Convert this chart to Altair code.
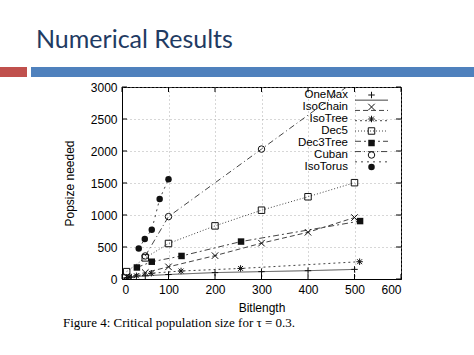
import altair as alt
import pandas as pd

# ---- data ----
series_names = ["OneMax", "IsoChain", "IsoTree", "Dec5", "Dec3Tree", "Cuban", "IsoTorus"]

onemax_x = [10, 20, 50, 100, 200, 300, 400, 500]
onemax_y = [20, 30, 50, 70, 100, 115, 130, 150]

isochain_x = [10, 50, 100, 200, 300, 400, 500]
isochain_y = [40, 100, 190, 365, 560, 730, 960]

isotree_x = [15, 31, 63, 127, 255, 511]
isotree_y = [30, 50, 90, 125, 165, 270]

dec5_x = [10, 50, 100, 200, 300, 400, 500]
dec5_y = [115, 330, 555, 830, 1075, 1285, 1505]

dec3tree_x = [32, 64, 128, 256, 512]
dec3tree_y = [180, 270, 360, 585, 905]

cuban_x = [50, 100, 300, 500]
cuban_y = [360, 975, 2030, 3090]

isotorus_x = [36, 49, 64, 81, 100]
isotorus_y = [475, 625, 770, 1250, 1560]

x_ticks = [0, 100, 200, 300, 400, 500, 600]
y_ticks = [0, 500, 1000, 1500, 2000, 2500, 3000]

title_text = "Numerical Results"
x_title = "Bitlength"
y_title = "Popsize needed"
caption_text = "Figure 4: Critical population size for \u03c4 = 0.3."

# ---- styles ----
dashes = [[1, 0], [5, 3], [2, 3], [1, 2], [6, 3, 2, 3], [6, 3, 1, 3], [2, 4]]
PLUS = "M-1,0H1M0,-1V1"
XMARK = "M-1,-1L1,1M-1,1L1,-1"
STAR = "M-1,0H1M0,-1V1M-0.75,-0.75L0.75,0.75M-0.75,0.75L0.75,-0.75"
shapes = [PLUS, XMARK, STAR, "square", "square", "circle", "circle"]
open_series = ["OneMax", "IsoChain", "IsoTree", "Dec5", "Cuban"]
filled_series = ["Dec3Tree", "IsoTorus"]

xs = [onemax_x, isochain_x, isotree_x, dec5_x, dec3tree_x, cuban_x, isotorus_x]
ys = [onemax_y, isochain_y, isotree_y, dec5_y, dec3tree_y, cuban_y, isotorus_y]
rows = []
for name, xv, yv in zip(series_names, xs, ys):
    for a, b in zip(xv, yv):
        rows.append({"series": name, "x": a, "y": b})
df = pd.DataFrame(rows)

W, H = 279, 192
AX_FONT = "Liberation Sans"

xscale = alt.Scale(domain=[0, 600], nice=False, zero=False)
yscale = alt.Scale(domain=[0, 3000], nice=False, zero=False)
dash_scale = alt.Scale(domain=series_names, range=dashes)
shape_scale = alt.Scale(domain=series_names, range=shapes)

X = alt.X("x:Q", scale=xscale, axis=alt.Axis(
    values=x_ticks, title=x_title, grid=True, ticks=False, labelPadding=5,
    titlePadding=7, format="d"))
Y_axis = alt.Y("y:Q", scale=yscale, axis=alt.Axis(
    values=y_ticks, title=y_title, grid=True, ticks=False, labelPadding=5,
    titlePadding=14, format="d"))
Y_plain = alt.Y("y:Q", scale=yscale, axis=None)

lines = alt.Chart(df).mark_line(strokeWidth=1, color="#444", clip=True).encode(
    x=X, y=Y_axis, detail="series:N",
    strokeDash=alt.StrokeDash("series:N", scale=dash_scale, legend=None),
)

pts_open = alt.Chart(df).transform_filter(
    alt.FieldOneOfPredicate(field="series", oneOf=open_series)
).mark_point(filled=False, size=42, strokeWidth=1, color="#111", opacity=1, clip=True).encode(
    x=alt.X("x:Q", scale=xscale), y=Y_plain,
    shape=alt.Shape("series:N", scale=shape_scale, legend=None),
)

pts_filled = alt.Chart(df).transform_filter(
    alt.FieldOneOfPredicate(field="series", oneOf=filled_series)
).mark_point(filled=True, size=42, color="#111", opacity=1, clip=True).encode(
    x=alt.X("x:Q", scale=xscale), y=Y_plain,
    shape=alt.Shape("series:N", scale=shape_scale, legend=None),
)

# inward ticks (gnuplot style), mirrored on all sides
yt = pd.DataFrame({"y": y_ticks})
xt = pd.DataFrame({"x": x_ticks})
ytick_l = alt.Chart(yt).mark_rule(color="black", strokeWidth=1).encode(
    y=Y_plain, x=alt.value(0), x2=alt.value(5))
ytick_r = alt.Chart(yt).mark_rule(color="black", strokeWidth=1).encode(
    y=Y_plain, x=alt.value(W - 5), x2=alt.value(W))
xtick_b = alt.Chart(xt).mark_rule(color="black", strokeWidth=1).encode(
    x=alt.X("x:Q", scale=xscale), y=alt.value(H), y2=alt.value(H - 5))
xtick_t = alt.Chart(xt).mark_rule(color="black", strokeWidth=1).encode(
    x=alt.X("x:Q", scale=xscale), y=alt.value(0), y2=alt.value(5))

# legend (text left of sample, gnuplot style)
leg = pd.DataFrame({"series": series_names})
leg_y = alt.Y("series:N", sort=series_names,
              scale=alt.Scale(domain=series_names, range=[8, 80], padding=0), axis=None)
leg_text = alt.Chart(leg).mark_text(align="right", baseline="middle", font=AX_FONT,
                                    fontSize=11.5, color="black").encode(
    y=leg_y, x=alt.value(226), text="series:N")
leg_line = alt.Chart(leg).mark_rule(strokeWidth=1, color="#444").encode(
    y=leg_y, x=alt.value(233), x2=alt.value(266),
    strokeDash=alt.StrokeDash("series:N", scale=dash_scale, legend=None))
leg_open = alt.Chart(leg).transform_filter(
    alt.FieldOneOfPredicate(field="series", oneOf=open_series)
).mark_point(filled=False, size=42, strokeWidth=1, color="#111", opacity=1).encode(
    y=leg_y, x=alt.value(249.5),
    shape=alt.Shape("series:N", scale=shape_scale, legend=None))
leg_filled = alt.Chart(leg).transform_filter(
    alt.FieldOneOfPredicate(field="series", oneOf=filled_series)
).mark_point(filled=True, size=42, color="#111", opacity=1).encode(
    y=leg_y, x=alt.value(249.5),
    shape=alt.Shape("series:N", scale=shape_scale, legend=None))

# slide decorations
one = pd.DataFrame({"t": [title_text]})
slide_title = alt.Chart(one).mark_text(
    align="left", baseline="alphabetic", font="Lato", fontSize=25, color="#1F3B63"
).encode(text="t:N", x=alt.value(-86), y=alt.value(-39))
red_bar = alt.Chart(one).mark_rect(color="#C0504D").encode(
    x=alt.value(-122), x2=alt.value(-95), y=alt.value(-20), y2=alt.value(-10))
blue_bar = alt.Chart(one).mark_rect(color="#4F81BD").encode(
    x=alt.value(-91), x2=alt.value(360), y=alt.value(-20), y2=alt.value(-10))
cap = pd.DataFrame({"t": [caption_text]})
caption = alt.Chart(cap).mark_text(
    align="left", baseline="alphabetic", font="Liberation Serif", fontSize=13, color="black"
).encode(text="t:N", x=alt.value(-59), y=alt.value(240))

chart = alt.layer(
    red_bar, blue_bar, slide_title, caption,
    lines, pts_open, pts_filled,
    ytick_l, ytick_r, xtick_b, xtick_t,
    leg_line, leg_text, leg_open, leg_filled,
).resolve_scale(y="independent").properties(
    width=W, height=H,
    autosize=alt.AutoSizeParams(type="none"),
    padding={"left": 122, "top": 87, "right": 73, "bottom": 76},
    background="white",
).configure_view(
    stroke="black", strokeWidth=1
).configure_axis(
    labelFont=AX_FONT, titleFont=AX_FONT, labelFontSize=12, titleFontSize=12,
    labelColor="black", titleColor="black", titleFontWeight="normal",
    domainColor="black", gridColor="#999", gridDash=[1, 3], gridWidth=0.8,
)

chart.save("out.html", embed_options={"renderer": "svg", "actions": False})
